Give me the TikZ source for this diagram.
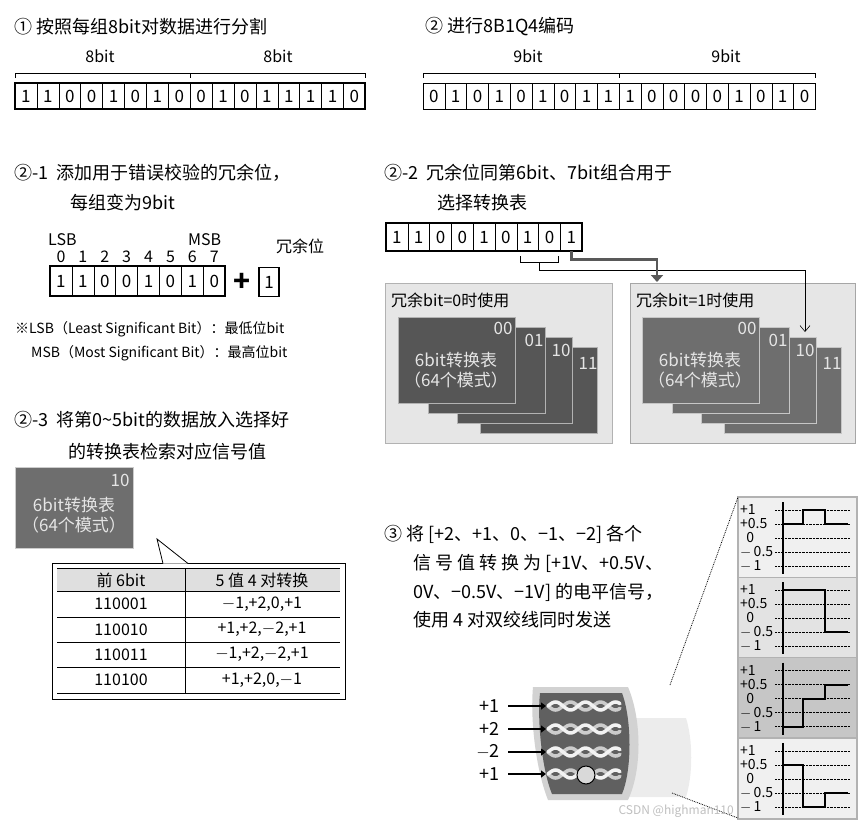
\documentclass[tikz,border=0pt]{standalone}
\usepackage{fontspec}
\setmainfont{Noto Sans CJK SC}
\usetikzlibrary{arrows.meta,calc}
\definecolor{cardA}{HTML}{565656}
\definecolor{cardB}{HTML}{6E6E6E}
\definecolor{panelbg}{HTML}{E6E6E6}
\tikzset{
 ttl/.style={anchor=west,font=\fontsize{18}{20}\selectfont,inner sep=0},
 bitc/.style={draw,line width=0.6pt,minimum height=24pt,inner sep=0,font=\fontsize{17}{18}\selectfont},
 card/.style={fill=cardA,draw=gray!60,line width=1pt},
 cardr/.style={fill=cardB,draw=gray!45,line width=1pt},
 cardtxt/.style={text=white!90!black,font=\fontsize{17}{20}\selectfont,inner sep=0},
 lvl/.style={font=\fontsize{14}{14}\selectfont,inner sep=0,anchor=west},
 lvlv/.style={font=\fontsize{14}{14}\selectfont,inner sep=0,anchor=west,text height=9pt,text depth=0pt},
 sig/.style={line width=1.8pt},
 tbl/.style={font=\fontsize{16}{18}\selectfont,inner sep=0},
}
\newcommand{\bitrow}[5]{% x0, y, cellwidth, height, list
 \foreach \b [count=\i from 0] in {#5}{
   \node[bitc,minimum width=#3pt,minimum height=#4pt] at ({#1+(\i+0.5)*#3},#2) {\b};}
}
\begin{document}
\begin{tikzpicture}[x=1pt,y=-1pt]
\useasboundingbox (0,0) rectangle (865,822);
% ---- 1
\node[ttl] (t1) at (14,27) {① 按照每组8bit对数据进行分割};
\bitrow{15}{96}{21.9}{26}{1,1,0,0,1,0,1,0,0,1,0,1,1,1,1,0}
\draw[line width=1.5pt] (15,83) rectangle (365,109);
\draw (15,78) -- (15,73) -- (190,73) -- (190,78);
\draw (190,73) -- (365,73) -- (365,78);
\node[tbl] (b1) at (100,56) {8bit};
\node[tbl] (b2) at (278,56) {8bit};
% ---- 2
\node[ttl] (t2) at (425,27) {② 进行8B1Q4编码};
\bitrow{423}{96}{21.8}{26}{0,1,0,1,0,1,0,1,1,1,0,0,0,0,1,0,1,0}
\draw[line width=0.8pt] (423,83) rectangle (815,109);
\draw (423,78) -- (423,73) -- (619,73) -- (619,78);
\draw (619,73) -- (815,73) -- (815,78);
\node[tbl] (b3) at (528,56) {9bit};
\node[tbl] (b4) at (726,56) {9bit};
% ---- 2-1
\node[ttl] (t21) at (14,173) {②-1\ \ 添加用于错误校验的冗余位，};
\node[ttl] (t21b) at (70,203) {每组变为9bit};
\node[lvl,font=\fontsize{16}{16}\selectfont] (lsb) at (48,240) {LSB};
\node[lvl,font=\fontsize{16}{16}\selectfont] (msb) at (188,240) {MSB};
\foreach \i in {0,...,7}{\node[tbl] at ({50+(\i+0.5)*21.9},257) {\i};}
\bitrow{50}{281}{21.9}{30}{1,1,0,0,1,0,1,0}
\draw[line width=1.5pt] (50,266) rectangle (225,296);
\node[font=\fontsize{28}{28}\selectfont\bfseries,inner sep=0] (plus) at (242,282) {+};
\node[draw,line width=1.5pt,minimum width=20pt,minimum height=29pt,inner sep=0,font=\fontsize{17}{18}\selectfont] (red) at (269,282) {1};
\node[tbl] (redl) at (300,246) {冗余位};
\node[lvl] (n1) at (15,329) {※LSB（Least Significant Bit）：最低位bit};
\node[lvl] (n2) at (31,353) {MSB（Most Significant Bit）：最高位bit};
% ---- 2-2
\node[ttl] (t22) at (384,173) {②-2\ \ 冗余位同第6bit、7bit组合用于};
\node[ttl] (t22b) at (437,203) {选择转换表};
\foreach \b [count=\i from 0] in {1,1,0,0,1,0,1,0,1}{
  \node[bitc,minimum width=21.8pt,minimum height=28pt] (c\i) at ({386+(\i+0.5)*21.8},237) {\b};}
\draw[line width=1.5pt] (386,223) rectangle (582,251);
% panels
\draw[fill=panelbg,draw=gray!60,line width=1pt] (385,283) rectangle (612,443);
\draw[fill=panelbg,draw=gray!70,line width=1pt] (630,283) rectangle (855,443);
\node[lvl,font=\fontsize{16}{18}\selectfont] (p0) at (391,300) {冗余bit=0时使用};
\node[lvl,font=\fontsize{16}{18}\selectfont] (p1) at (636,300) {冗余bit=1时使用};
\foreach \dx/\st in {0/card,244/cardr}{
 \begin{scope}[xshift=\dx]
 \draw[\st] (480,347) rectangle (597,433);
 \node[cardtxt] at (588,363) {11};
 \draw[\st] (457,337) rectangle (572,423);
 \node[cardtxt] at (561,350) {10};
 \draw[\st] (428,327) rectangle (545,413);
 \node[cardtxt] at (534,340) {01};
 \draw[\st] (398,317) rectangle (515,403);
 \node[cardtxt] at (503,328) {00};
 \node[cardtxt,align=center] at (456,370) {6bit转换表\\（64个模式）};
 \end{scope}}
\coordinate (tgt) at (805,332);
\coordinate (bra) at (520,256);
\coordinate (brb) at (558,256);
\draw[line width=0.6pt] (bra) -- ++(0,6) -- ($(brb)+(0,6)$) -- (brb);
\draw[line width=0.6pt,-{Straight Barb[length=6pt,width=10pt]}] ($(bra)!0.5!(brb)+(0,6)$) -- ++(0,8) -| (tgt);
\draw[line width=2.5pt,gray!70!black,-{Triangle[length=7pt,width=12pt]}] (c8.south) -- ++(0,8) -| (657,282);
% ---- 2-3
\node[ttl] (t23) at (14,420) {②-3\ \ 将第0\char`~5bit的数据放入选择好};
\node[ttl] (t23b) at (68,452) {的转换表检索对应信号值};
\draw[fill=cardB,draw=gray!40,line width=1pt] (15,467) rectangle (133,548);
\node[cardtxt] at (120,480) {10};
\node[cardtxt,align=center] (ct) at (74,515) {6bit转换表\\（64个模式）};
\draw[line width=0.8pt] (52,563) rectangle (345,699);
\fill[gray!25] (57,568) rectangle (340,591);
\draw[line width=0.8pt,fill=white] (163,563.5) -- (157,539) -- (188,563.5);
\draw (57,568) -- (340,568); \draw (57,591) -- (340,591);
\foreach \y in {617,642,667,693}{\draw (57,\y) -- (340,\y);}
\draw (185,568) -- (185,693);
\node[tbl] at (121,580) {前 6bit};
\node[tbl] at (262,580) {5 值 4 对转换};
\foreach \a/\b [count=\k from 0] in {110001/{$-$1,+2,0,+1},110010/{+1,+2,$-$2,+1},110011/{$-$1,+2,$-$2,+1},110100/{+1,+2,0,$-$1}}{
  \node[tbl] at (121,{604+25.3*\k}) {\a};
  \node[tbl] at (262,{604+25.3*\k}) {\b};}
% ---- 3
\node[ttl] (t3) at (384,534) {③ 将 [+2、+1、0、−1、−2] 各个};
\node[ttl] (t3b) at (413,563) {信 号 值 转 换 为 [+1V、+0.5V、};
\node[ttl] (t3c) at (413,592) {0V、−0.5V、−1V] 的电平信号，};
\node[ttl] (t3d) at (413,620) {使用 4 对双绞线同时发送};
% waveform panels
\foreach \k/\col/\pts in {0/gray!12/{(783,524)-|(803,510)-|(825,524)--(848,524)},
                         1/gray!22/{(783,510)-|(825,552)--(848,552)},
                         2/gray!45/{(783,566)-|(803,538)-|(825,524)--(848,524)},
                         3/gray!12/{(783,524)-|(803,566)-|(825,552)--(848,552)}}{
 \begin{scope}[yshift={-80.3*\k}]
 \draw[fill=\col,draw=gray!60,line width=1.2pt] (738,497) rectangle (857,578);
 \foreach \l [count=\j from 0] in {+1,+0.5,\ \ 0,$-$\,0.5,$-$\,1}{
   \draw[densely dotted] (775,{510+14*\j}) -- (850,{510+14*\j});
   \node[lvlv] at (740,{510+14*\j}) {\l};}
 \draw[line width=1.8pt] (783,502) -- (783,574);
 \draw[sig] \pts;
 \end{scope}}
% cable
\fill[gray!15] (600,718) -- (686,718) .. controls (693,740) and (693,775) .. (686,797) -- (600,797) -- cycle;
\fill[gray!35] (533,687) -- (628,687) .. controls (642,720) and (642,770) .. (628,800) -- (548,800) .. controls (536,770) and (530,720) .. (533,687);
\fill[gray!75!black] (540,693) -- (622,693) .. controls (632,720) and (632,770) .. (622,794) -- (552,794) .. controls (542,770) and (537,720) .. (540,693);
\foreach \yy in {706,729,752,774}{
  \draw[line width=3.5pt,white!80!black,line cap=round] plot[domain=548:620,samples=50,smooth] (\x,{\yy+4*sin(12*(\x-548))});
  \draw[line width=3.5pt,white!95!black,line cap=round] plot[domain=548:620,samples=50,smooth] (\x,{\yy-4*sin(12*(\x-548))});
}
\draw[line width=1pt,fill=white!85!black] (586,775) circle (9);
\foreach \l/\yy [count=\k] in {+1/706,+2/729,$-$2/752,+1/774}{
  \node[tbl,font=\fontsize{18}{18}\selectfont,anchor=east] (s\k) at (500,\yy) {\l};
  \coordinate (e\k) at (546,\yy);
  \draw[line width=2.5pt,-{Triangle[length=5pt,width=7pt]}] ([xshift=8pt]s\k.east) -- (e\k);}
\coordinate (cab1) at (670,685);
\coordinate (cab2) at (672,793);
\draw[densely dotted,line width=0.8pt] (cab1) -- (738,497);
\draw[densely dotted,line width=0.8pt] (cab2) -- (738,818);
\node[font=\fontsize{12}{12}\selectfont,inner sep=0,text height=8pt,text depth=0pt,text=gray!50,anchor=east] at (734,810) {CSDN @highman110};
\end{tikzpicture}
\end{document}
